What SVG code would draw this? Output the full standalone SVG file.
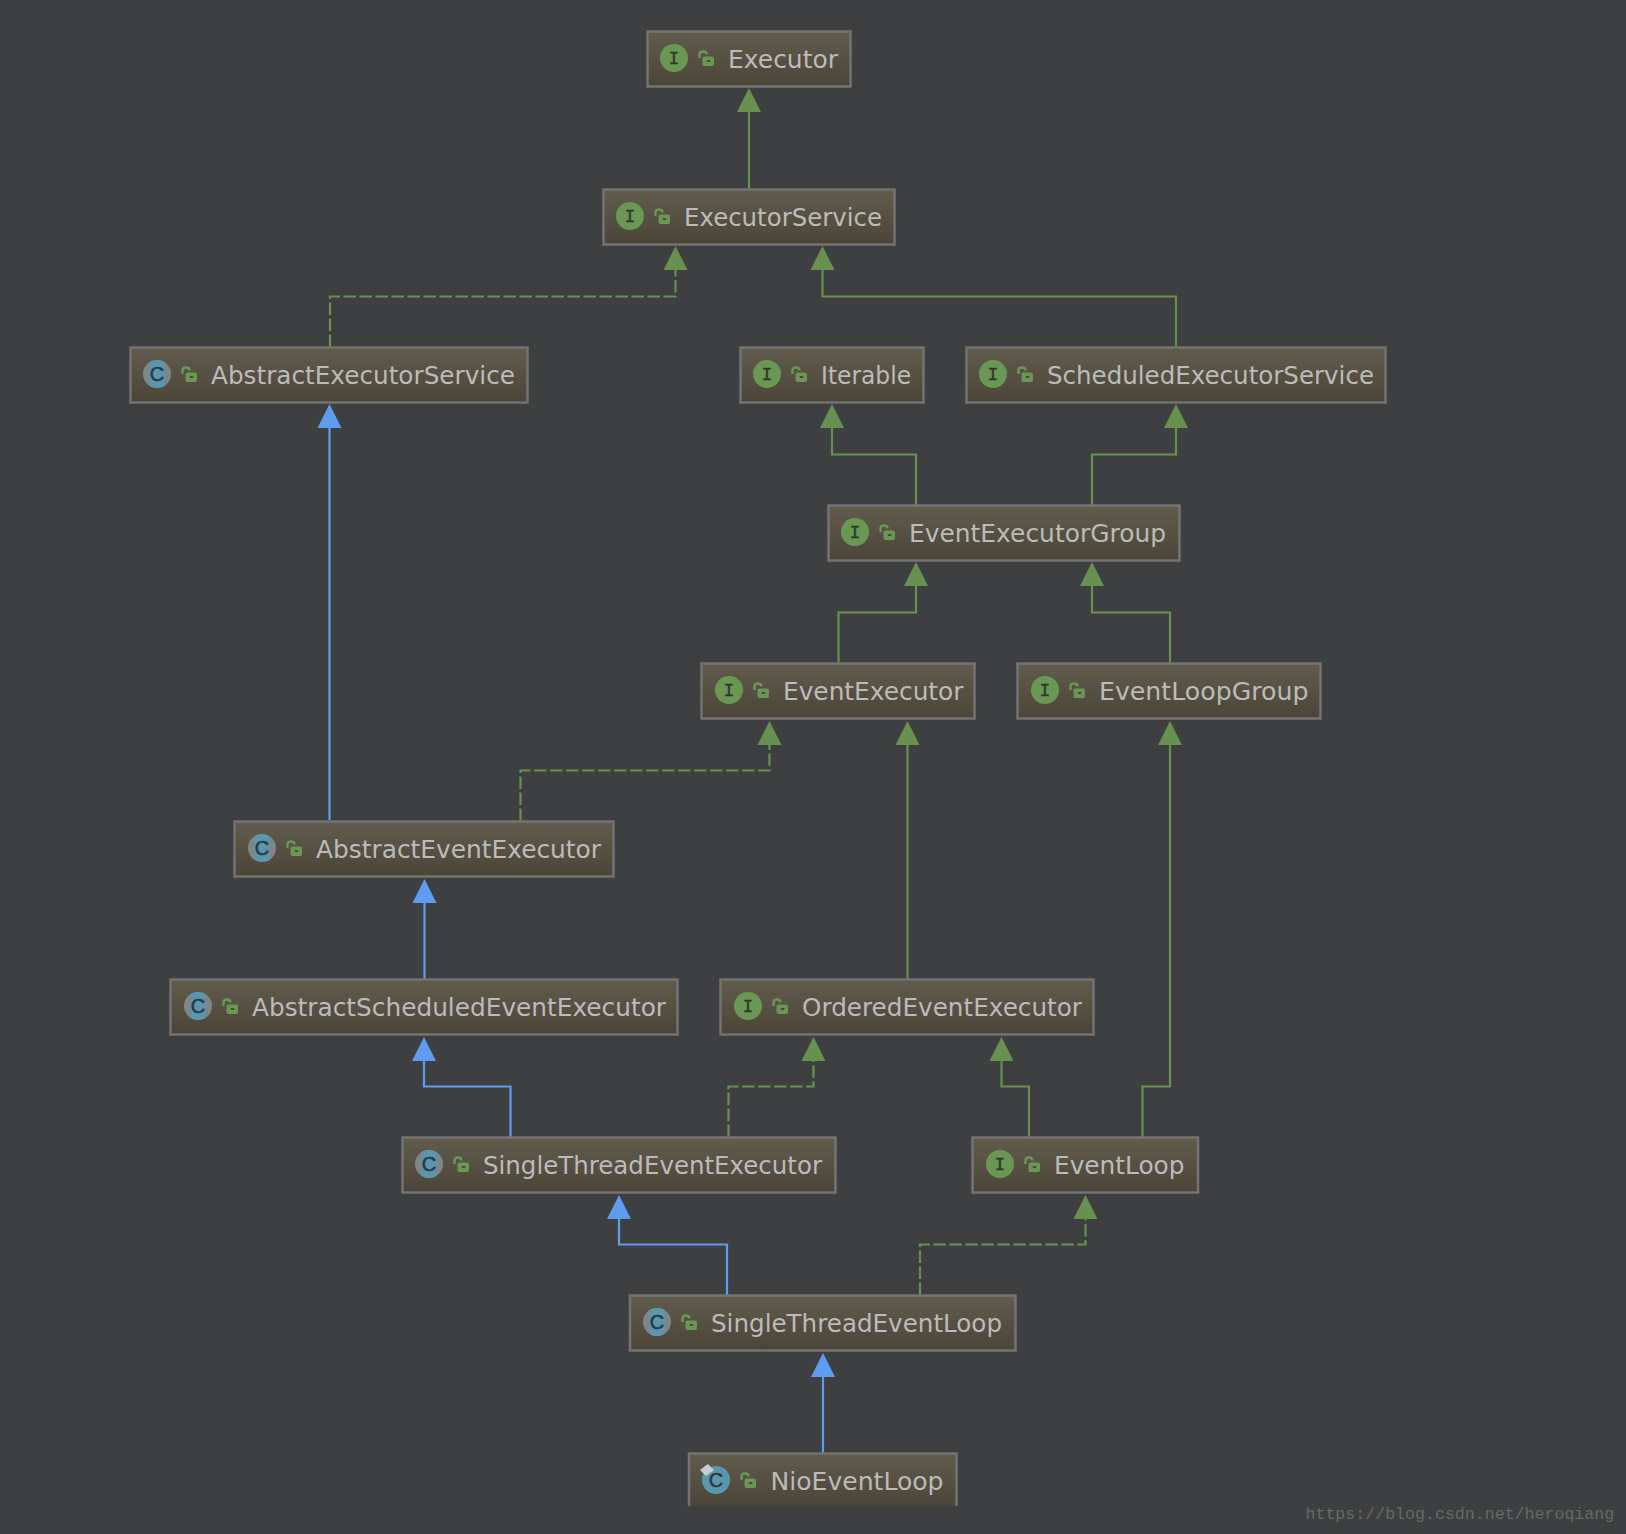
<svg xmlns="http://www.w3.org/2000/svg" width="1626" height="1534" viewBox="0 0 1626 1534">
<style>
.n{fill:url(#g);stroke:#737373;stroke-width:2.5}
.t{font-family:"DejaVu Sans",sans-serif;font-size:25.5px;fill:#bbbbbb}
.i{fill:#6b9755}
.it{font-family:"Liberation Mono",monospace;font-size:18px;fill:#2f3a2c;text-anchor:middle;stroke:#2f3a2c;stroke-width:.4}
.ct{font-family:"Liberation Sans",sans-serif;font-size:20px;fill:#2b3a45;text-anchor:middle;stroke:#2b3a45;stroke-width:.6}
.l{fill:none;stroke-width:2.2}
.gr{stroke:#68914f}
.bl{stroke:#5f9cef}
.d{stroke-dasharray:12.5 3.5}
.ag{fill:#68914f}
.ab{fill:#5f9cef}
.lk{fill:none;stroke:#6b9755;stroke-width:2.4}
.lb{fill:#6b9755}
.wm{font-family:"Liberation Mono",monospace;font-size:16.6px;fill:#666a68}
</style>
<defs>
<linearGradient id="g" x1="0" y1="0" x2="0" y2="1"><stop offset="0" stop-color="#625c4d"/><stop offset="1" stop-color="#4a4538"/></linearGradient>
<clipPath id="cp"><circle cx="0" cy="0" r="14"/></clipPath>
<g id="lock"><path class="lk" d="M1.500 8V4.500Q1.500 1.500 5 1.500T8.500 4.500"/><rect class="lb" x="4.500" y="6.500" width="11.500" height="9.500" rx="2"/><rect x="8.800" y="10" width="3.500" height="2" fill="#4f4a3d"/></g>
<g id="ci"><circle class="i" cx="0" cy="0" r="14"/><text class="it" x="0" y="6">I</text></g>
<g id="cc"><circle cx="0" cy="0" r="14" fill="#7f8589"/><rect x="-7.500" y="-14" width="15" height="28" fill="#5a97ae" clip-path="url(#cp)"/><text class="ct" x="0" y="7">C</text></g>
</defs>
<rect width="1626" height="1534" fill="#3e3f41"/>
<g id="connectors">
<path class="l gr" d="M749 189V110"/><path class="ag" d="M749 88L761 112H737Z"/>
<path class="l gr d" d="M330 347V296.500H675.500V270"/><path class="ag" d="M675.500 246L687.500 270H663.500Z"/>
<path class="l gr" d="M1176 347V296.500H822.500V270"/><path class="ag" d="M822.500 246L834.500 270H810.500Z"/>
<path class="l bl" d="M329.500 820V428"/><path class="ab" d="M329.500 404L341.500 428H317.500Z"/>
<path class="l gr" d="M916 505V454.500H832V428"/><path class="ag" d="M832 404L844 428H820Z"/>
<path class="l gr" d="M1092 505V454.500H1176V428"/><path class="ag" d="M1176 404L1188 428H1164Z"/>
<path class="l gr" d="M838.500 663V612.500H916V586"/><path class="ag" d="M916 562L928 586H904Z"/>
<path class="l gr" d="M1170 663V612.500H1092V586"/><path class="ag" d="M1092 562L1104 586H1080Z"/>
<path class="l gr d" d="M520.500 821V770.500H769.500V745"/><path class="ag" d="M769.500 721L781.500 745H757.500Z"/>
<path class="l gr" d="M907.500 979V745"/><path class="ag" d="M907.500 721L919.500 745H895.500Z"/>
<path class="l gr" d="M1142.500 1137V1086.500H1170V745"/><path class="ag" d="M1170 721L1182 745H1158Z"/>
<path class="l bl" d="M424.500 979V903"/><path class="ab" d="M424.500 879L436.500 903H412.500Z"/>
<path class="l bl" d="M510.500 1137V1086.500H424V1061"/><path class="ab" d="M424 1037L436 1061H412Z"/>
<path class="l gr d" d="M728.500 1137V1086.500H813.500V1061"/><path class="ag" d="M813.500 1037L825.500 1061H801.500Z"/>
<path class="l gr" d="M1029 1137V1086.500H1001.500V1061"/><path class="ag" d="M1001.500 1037L1013.500 1061H989.500Z"/>
<path class="l bl" d="M727 1295V1244.500H619V1219"/><path class="ab" d="M619 1195L631 1219H607Z"/>
<path class="l gr d" d="M920 1295V1244.500H1085.500V1219"/><path class="ag" d="M1085.500 1195L1097.500 1219H1073.500Z"/>
<path class="l bl" d="M823 1453V1377"/><path class="ab" d="M823 1353L835 1377H811Z"/>
</g>
<g id="Executor"><rect class="n" x="647.500" y="31.500" width="203" height="55"/><use href="#ci" x="674" y="58"/><use href="#lock" x="698" y="50"/><text class="t" x="728" y="68" textLength="110" lengthAdjust="spacingAndGlyphs">Executor</text></g>
<g id="ExecutorService"><rect class="n" x="603.500" y="189.500" width="291" height="55"/><use href="#ci" x="630" y="216"/><use href="#lock" x="654" y="208"/><text class="t" x="684" y="226" textLength="198" lengthAdjust="spacingAndGlyphs">ExecutorService</text></g>
<g id="AbstractExecutorService"><rect class="n" x="130.500" y="347.500" width="397" height="55"/><use href="#cc" x="157" y="374"/><use href="#lock" x="181" y="366"/><text class="t" x="211" y="384" textLength="304" lengthAdjust="spacingAndGlyphs">AbstractExecutorService</text></g>
<g id="Iterable"><rect class="n" x="740.500" y="347.500" width="183" height="55"/><use href="#ci" x="767" y="374"/><use href="#lock" x="791" y="366"/><text class="t" x="821" y="384" textLength="90" lengthAdjust="spacingAndGlyphs">Iterable</text></g>
<g id="ScheduledExecutorService"><rect class="n" x="966.500" y="347.500" width="419" height="55"/><use href="#ci" x="993" y="374"/><use href="#lock" x="1017" y="366"/><text class="t" x="1047" y="384" textLength="327" lengthAdjust="spacingAndGlyphs">ScheduledExecutorService</text></g>
<g id="EventExecutorGroup"><rect class="n" x="828.500" y="505.500" width="351" height="55"/><use href="#ci" x="855" y="532"/><use href="#lock" x="879" y="524"/><text class="t" x="909" y="542" textLength="257" lengthAdjust="spacingAndGlyphs">EventExecutorGroup</text></g>
<g id="EventExecutor"><rect class="n" x="701.500" y="663.500" width="273" height="55"/><use href="#ci" x="729" y="690"/><use href="#lock" x="753" y="682"/><text class="t" x="783" y="700" textLength="180.500" lengthAdjust="spacingAndGlyphs">EventExecutor</text></g>
<g id="EventLoopGroup"><rect class="n" x="1017.500" y="663.500" width="303" height="55"/><use href="#ci" x="1045" y="690"/><use href="#lock" x="1069" y="682"/><text class="t" x="1099" y="700" textLength="209.500" lengthAdjust="spacingAndGlyphs">EventLoopGroup</text></g>
<g id="AbstractEventExecutor"><rect class="n" x="234.500" y="821.500" width="379" height="55"/><use href="#cc" x="262" y="848"/><use href="#lock" x="286" y="840"/><text class="t" x="316" y="858" textLength="285" lengthAdjust="spacingAndGlyphs">AbstractEventExecutor</text></g>
<g id="AbstractScheduledEventExecutor"><rect class="n" x="170.500" y="979.500" width="507" height="55"/><use href="#cc" x="198" y="1006"/><use href="#lock" x="222" y="998"/><text class="t" x="252" y="1016" textLength="414" lengthAdjust="spacingAndGlyphs">AbstractScheduledEventExecutor</text></g>
<g id="OrderedEventExecutor"><rect class="n" x="720.500" y="979.500" width="373" height="55"/><use href="#ci" x="748" y="1006"/><use href="#lock" x="772" y="998"/><text class="t" x="802" y="1016" textLength="280" lengthAdjust="spacingAndGlyphs">OrderedEventExecutor</text></g>
<g id="SingleThreadEventExecutor"><rect class="n" x="402.500" y="1137.500" width="433" height="55"/><use href="#cc" x="429" y="1164"/><use href="#lock" x="453" y="1156"/><text class="t" x="483" y="1174" textLength="339" lengthAdjust="spacingAndGlyphs">SingleThreadEventExecutor</text></g>
<g id="EventLoop"><rect class="n" x="972.500" y="1137.500" width="225.500" height="55"/><use href="#ci" x="1000" y="1164"/><use href="#lock" x="1024" y="1156"/><text class="t" x="1054" y="1174" textLength="130.500" lengthAdjust="spacingAndGlyphs">EventLoop</text></g>
<g id="SingleThreadEventLoop"><rect class="n" x="630" y="1295.500" width="385.500" height="55"/><use href="#cc" x="657" y="1322"/><use href="#lock" x="681" y="1314"/><text class="t" x="711" y="1332" textLength="291" lengthAdjust="spacingAndGlyphs">SingleThreadEventLoop</text></g>
<g id="NioEventLoop"><rect fill="url(#g)" x="689" y="1453" width="267" height="53"/><path d="M689 1506V1453.500H956.500V1506" fill="none" stroke="#737373" stroke-width="2.500"/><circle cx="716" cy="1480" r="14" fill="#5a97ae"/><path d="M700 1470L708 1464L714 1470L706 1476Z" fill="#c8ccd0"/><text class="ct" x="716" y="1487">C</text><use href="#lock" x="740" y="1472"/><text class="t" x="770.500" y="1490" textLength="173" lengthAdjust="spacingAndGlyphs">NioEventLoop</text></g>
<text class="wm" x="1305.500" y="1519">https://blog.csdn.net/heroqiang</text>
</svg>
